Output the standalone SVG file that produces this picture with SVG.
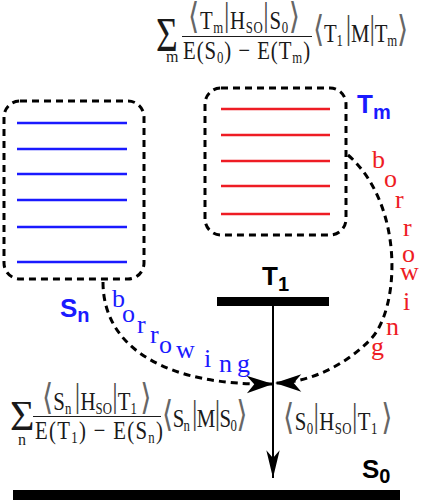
<svg xmlns="http://www.w3.org/2000/svg" width="423" height="500" viewBox="0 0 423 500">
<style>
.f{font-family:"Liberation Serif","Times New Roman",serif;font-size:26px;fill:#1a1a1a}
.sb{font-size:16px}
.br{font-family:"DejaVu Sans",sans-serif;font-size:36px;fill:#666}
.bar{font-size:34px;fill:#444}
.sig{font-family:"Liberation Serif","Times New Roman",serif;fill:#1a1a1a}
.lbl{font-family:"Liberation Sans",Arial,sans-serif;font-weight:bold;font-size:26px}
.lsub{font-size:20px}
.bl{fill:#1a1aff}
.rd{fill:#ee1c24}
.bw{font-family:"Liberation Serif","Times New Roman",serif;font-size:26px}
.box{fill:none;stroke:#000;stroke-width:3;stroke-dasharray:7 5}
.dash{fill:none;stroke:#000;stroke-width:3;stroke-dasharray:7 5}
.blv{stroke:#1a1aff;stroke-width:2.5}
.rdv{stroke:#ee1c24;stroke-width:2.5}
.frac{stroke:#1a1a1a;stroke-width:1.2}
</style>
<defs>
<marker id="ah" markerUnits="userSpaceOnUse" markerWidth="30" markerHeight="20" viewBox="-22 -8 24 16" refX="0" refY="0" orient="auto">
<path d="M0,0 L-21,-7 L-15,0 L-21,7 Z" fill="#000"/>
</marker>
<marker id="ahm" markerUnits="userSpaceOnUse" markerWidth="30" markerHeight="16" viewBox="-26 -7 27 14" refX="0" refY="0" orient="auto">
<path d="M0,0 L-25,-6 L-18,0 L-25,6 Z" fill="#000"/>
</marker>
</defs>

<g id="node-Sn">
<rect class="box" x="4" y="101" width="140" height="178" rx="16"/>
<line class="blv" x1="17" y1="123" x2="127" y2="123"/>
<line class="blv" x1="17" y1="149" x2="127" y2="149"/>
<line class="blv" x1="17" y1="174" x2="127" y2="174"/>
<line class="blv" x1="17" y1="200" x2="127" y2="200"/>
<line class="blv" x1="17" y1="227" x2="127" y2="227"/>
<line class="blv" x1="17" y1="262" x2="127" y2="262"/>
<text class="lbl bl" x="60" y="317">S<tspan class="lsub" dy="5">n</tspan></text>
</g>

<g id="node-Tm">
<rect class="box" x="205" y="88" width="141" height="147" rx="16"/>
<line class="rdv" x1="221" y1="109" x2="330" y2="109"/>
<line class="rdv" x1="221" y1="135" x2="330" y2="135"/>
<line class="rdv" x1="221" y1="161" x2="330" y2="161"/>
<line class="rdv" x1="221" y1="186" x2="330" y2="186"/>
<line class="rdv" x1="221" y1="214" x2="330" y2="214"/>
<text class="lbl bl" x="357" y="113">T<tspan class="lsub" dy="6">m</tspan></text>
</g>

<g id="node-T1">
<rect x="217" y="297" width="112" height="9" fill="#000"/>
<text class="lbl" x="262" y="285" fill="#000">T<tspan class="lsub" dy="6">1</tspan></text>
</g>

<g id="node-S0">
<rect x="13" y="490" width="387" height="10" fill="#000"/>
<text class="lbl" x="362" y="478" fill="#000">S<tspan class="lsub" dy="5">0</tspan></text>
</g>

<g id="connectors">
<path class="dash" d="M103,282 C103,350 170,386 273,384" marker-end="url(#ah)"/>
<path class="dash" d="M348,155 C405,205 400,310 370,340 C345,365 310,383 275,383" marker-end="url(#ah)"/>
<line x1="273" y1="306" x2="273" y2="478" stroke="#000" stroke-width="2" marker-end="url(#ahm)"/>
</g>

<g id="label-borrowing-blue" class="bw bl">
<text x="112" y="307">b</text>
<text x="122" y="322">o</text>
<text x="137" y="333">r</text>
<text x="150" y="343">r</text>
<text x="159" y="353">o</text>
<text x="176" y="358">w</text>
<text x="204" y="367">i</text>
<text x="219" y="372">n</text>
<text x="237" y="372">g</text>
</g>

<g id="label-borrowing-red" class="bw rd">
<text x="372" y="168">b</text>
<text x="384" y="187">o</text>
<text x="395" y="208">r</text>
<text x="403" y="236">r</text>
<text x="402" y="262">o</text>
<text x="400" y="280">w</text>
<text x="403" y="310">i</text>
<text x="386" y="335">n</text>
<text x="371" y="355">g</text>
</g>

<g id="formula-top">
<text class="sig" font-size="48" transform="translate(156,51) scale(0.78,1)">Σ</text>
<text class="f sb" x="166" y="62">m</text>
<text class="f" transform="translate(188,29) scale(0.8,1)" textLength="140" lengthAdjust="spacing"><tspan class="br" dy="-1">⟨</tspan><tspan dy="1">T</tspan><tspan class="sb" dy="4">m</tspan><tspan class="bar" dy="-7">|</tspan><tspan dy="3">H</tspan><tspan class="sb" dy="4">SO</tspan><tspan class="bar" dy="-7">|</tspan><tspan dy="3">S</tspan><tspan class="sb" dy="4">0</tspan><tspan class="br" dy="-5">⟩</tspan></text>
<line class="frac" x1="182" y1="36.5" x2="312" y2="36.5"/>
<text class="f" transform="translate(183,59) scale(0.8,1)" textLength="159" lengthAdjust="spacing">E(S<tspan class="sb" dy="4">0</tspan><tspan dy="-4">) − E(T</tspan><tspan class="sb" dy="4">m</tspan><tspan dy="-4">)</tspan></text>
<text class="f" transform="translate(313,42) scale(0.8,1)" textLength="119" lengthAdjust="spacing"><tspan class="br" dy="-1">⟨</tspan><tspan dy="1">T</tspan><tspan class="sb" dy="4">1 </tspan><tspan class="bar" dy="-7">|</tspan><tspan dy="3">M</tspan><tspan class="bar" dy="-3">|</tspan><tspan dy="3">T</tspan><tspan class="sb" dy="4">m</tspan><tspan class="br" dy="-5">⟩</tspan></text>
</g>

<g id="formula-bottom-left">
<text class="sig" font-size="42" x="10" y="430">Σ</text>
<text class="f sb" x="18" y="445">n</text>
<text class="f" transform="translate(42,410) scale(0.8,1)" textLength="137" lengthAdjust="spacing"><tspan class="br" dy="-1">⟨</tspan><tspan dy="1">S</tspan><tspan class="sb" dy="4">n </tspan><tspan class="bar" dy="-7">|</tspan><tspan dy="3">H</tspan><tspan class="sb" dy="4">SO</tspan><tspan class="bar" dy="-7">|</tspan><tspan dy="3">T</tspan><tspan class="sb" dy="4">1 </tspan><tspan class="br" dy="-5">⟩</tspan></text>
<line class="frac" x1="33" y1="416.5" x2="161" y2="416.5"/>
<text class="f" transform="translate(35,439) scale(0.8,1)" textLength="160" lengthAdjust="spacing">E(T<tspan class="sb" dy="4">1</tspan><tspan dy="-4">) − E(S</tspan><tspan class="sb" dy="4">n</tspan><tspan dy="-4">)</tspan></text>
<text class="f" transform="translate(162,427) scale(0.8,1)" textLength="107" lengthAdjust="spacing"><tspan class="br" dy="-1">⟨</tspan><tspan dy="1">S</tspan><tspan class="sb" dy="4">n </tspan><tspan class="bar" dy="-7">|</tspan><tspan dy="3">M</tspan><tspan class="bar" dy="-3">|</tspan><tspan dy="3">S</tspan><tspan class="sb" dy="4">0</tspan><tspan class="br" dy="-5">⟩</tspan></text>
</g>

<g id="formula-right">
<text class="f" transform="translate(283,430) scale(0.8,1)" textLength="137" lengthAdjust="spacing"><tspan class="br" dy="-1">⟨</tspan><tspan dy="1">S</tspan><tspan class="sb" dy="4">0</tspan><tspan class="bar" dy="-7">|</tspan><tspan dy="3">H</tspan><tspan class="sb" dy="4">SO</tspan><tspan class="bar" dy="-7">|</tspan><tspan dy="3">T</tspan><tspan class="sb" dy="4">1 </tspan><tspan class="br" dy="-5">⟩</tspan></text>
</g>
</svg>
